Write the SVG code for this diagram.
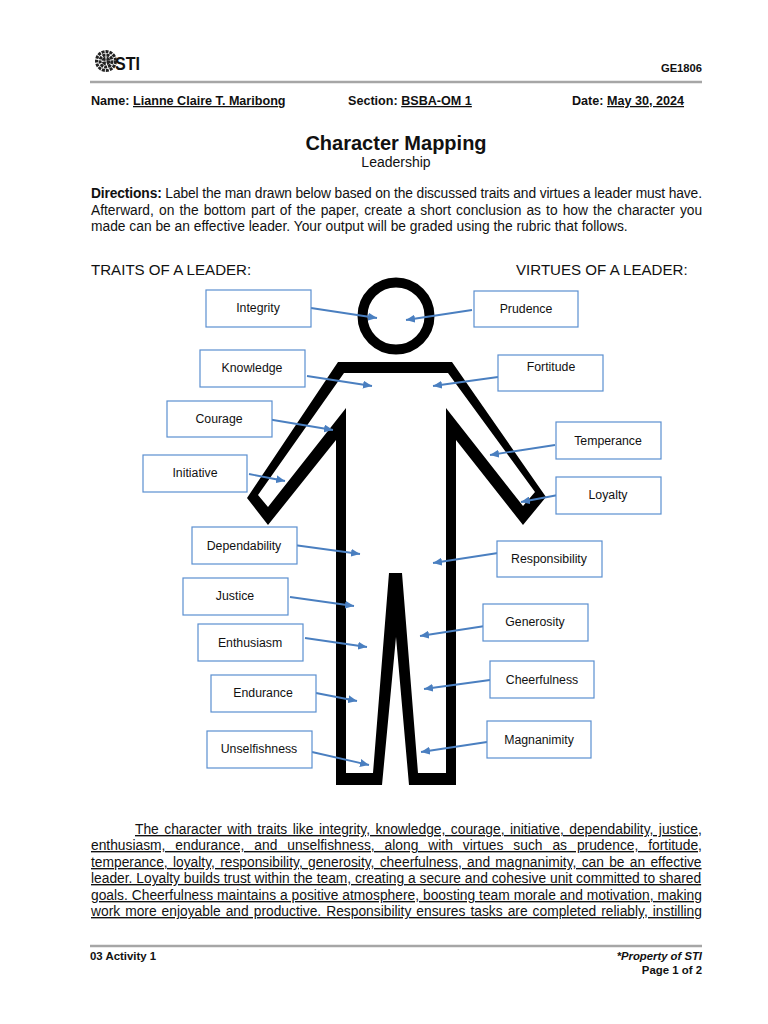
<svg xmlns="http://www.w3.org/2000/svg" width="768" height="1024" viewBox="0 0 768 1024">
<style>
text{font-family:"Liberation Sans",Arial,sans-serif;fill:#111}
.b{font-weight:700}
.h{font-size:12.6px;font-weight:700}
.d{font-size:13.8px}
.p{font-size:13.8px;text-decoration:underline}
.l{font-size:12.3px;text-anchor:middle}
.box{fill:#fff;stroke:#5b8fd0;stroke-width:1.2}
.a{stroke:#4a7fc0;stroke-width:1.8;fill:none;marker-end:url(#ah)}
.rule{stroke:#a6a6a6;stroke-width:2.4}
.fig{fill:none;stroke:#000;stroke-width:10}
.g{fill:none;stroke:#222;stroke-dasharray:3 1}
</style>
<defs><marker id="ah" markerUnits="userSpaceOnUse" markerWidth="10" markerHeight="8" refX="9" refY="4" orient="auto"><path d="M0 0L9 4L0 8Z" fill="#4a7fc0"/></marker></defs>
<rect width="768" height="1024" fill="#fff"/>
<g id="logo">
<circle class="g" cx="106" cy="61" r="9.5" stroke-width="3"/>
<circle class="g" cx="106" cy="61" r="6" stroke-width="3"/>
<circle class="g" cx="106" cy="61" r="2.5" stroke-width="3.5"/>
<text x="115" y="70" font-size="18" class="b" textLength="25" lengthAdjust="spacingAndGlyphs">STI</text>
</g>
<text x="702" y="72" text-anchor="end" class="b" font-size="11.2">GE1806</text>
<line class="rule" x1="90" y1="82" x2="702" y2="82"/>
<text x="91" y="105" class="h">Name: <tspan text-decoration="underline">Lianne Claire T. Maribong</tspan></text>
<text x="348" y="105" class="h">Section: <tspan text-decoration="underline">BSBA-OM 1</tspan></text>
<text x="572" y="105" class="h">Date: <tspan text-decoration="underline">May 30, 2024</tspan></text>
<text x="396" y="150" text-anchor="middle" class="b" font-size="20">Character Mapping</text>
<text x="396" y="167" text-anchor="middle" font-size="14">Leadership</text>
<text x="91" y="198" class="d" textLength="611"><tspan class="b">Directions:</tspan> Label the man drawn below based on the discussed traits and virtues a leader must have.</text>
<text x="91" y="215" class="d" word-spacing="1.26">Afterward, on the bottom part of the paper, create a short conclusion as to how the character you</text>
<text x="91" y="231" class="d">made can be an effective leader. Your output will be graded using the rubric that follows.</text>
<text x="91" y="275" font-size="15.1">TRAITS OF A LEADER:</text>
<text x="516" y="275" font-size="15.1">VIRTUES OF A LEADER:</text>
<g id="figure">
<circle class="fig" cx="396" cy="316" r="33.5"/>
<path fill="#000" fill-rule="evenodd" d="M338 362H452L546 497L523 525L456 440V785H409L396 637L382 785H336V440L268 525L247 498Z M344 373H448L535 492L523 506L446 408V773H418L402 573H389L373 773H346V408L268 507L258 495Z"/>
</g>
<g id="connectors">
<line class="a" x1="311" y1="308" x2="377" y2="318"/>
<line class="a" x1="307" y1="376" x2="372" y2="386"/>
<line class="a" x1="267" y1="419" x2="333" y2="430"/>
<line class="a" x1="249" y1="474" x2="285" y2="481"/>
<line class="a" x1="472" y1="310" x2="406" y2="320"/>
<line class="a" x1="498" y1="377" x2="433" y2="386"/>
<line class="a" x1="555" y1="445" x2="490" y2="455"/>
<line class="a" x1="558" y1="495" x2="521" y2="502"/>
<line class="a" x1="294" y1="545" x2="360" y2="554"/>
<line class="a" x1="290" y1="597" x2="354" y2="606"/>
<line class="a" x1="305" y1="638" x2="367" y2="647"/>
<line class="a" x1="316" y1="693" x2="357" y2="701"/>
<line class="a" x1="312" y1="752" x2="369" y2="765"/>
<line class="a" x1="498" y1="553" x2="433" y2="563"/>
<line class="a" x1="485" y1="626" x2="420" y2="636"/>
<line class="a" x1="490" y1="680" x2="424" y2="689"/>
<line class="a" x1="487" y1="742" x2="421" y2="752"/>
</g>
<g id="n-integrity"><rect class="box" x="206" y="290" width="105" height="37"/><text class="l" x="258" y="312">Integrity</text></g>
<g id="n-knowledge"><rect class="box" x="200" y="350" width="105" height="37"/><text class="l" x="252" y="372">Knowledge</text></g>
<g id="n-courage"><rect class="box" x="167" y="401" width="105" height="36"/><text class="l" x="219" y="423">Courage</text></g>
<g id="n-initiative"><rect class="box" x="143" y="455" width="104" height="37"/><text class="l" x="195" y="477">Initiative</text></g>
<g id="n-prudence"><rect class="box" x="474" y="291" width="104" height="36"/><text class="l" x="526" y="313">Prudence</text></g>
<g id="n-fortitude"><rect class="box" x="498" y="355" width="105" height="36"/><text class="l" x="551" y="371">Fortitude</text></g>
<g id="n-temperance"><rect class="box" x="556" y="422" width="105" height="37"/><text class="l" x="608" y="445">Temperance</text></g>
<g id="n-loyalty"><rect class="box" x="556" y="477" width="105" height="37"/><text class="l" x="608" y="499">Loyalty</text></g>
<g id="n-dependability"><rect class="box" x="192" y="527" width="105" height="37"/><text class="l" x="244" y="550">Dependability</text></g>
<g id="n-justice"><rect class="box" x="183" y="578" width="105" height="37"/><text class="l" x="235" y="600">Justice</text></g>
<g id="n-enthusiasm"><rect class="box" x="198" y="624" width="105" height="37"/><text class="l" x="250" y="647">Enthusiasm</text></g>
<g id="n-endurance"><rect class="box" x="211" y="675" width="105" height="37"/><text class="l" x="263" y="697">Endurance</text></g>
<g id="n-unselfishness"><rect class="box" x="207" y="731" width="105" height="37"/><text class="l" x="259" y="753">Unselfishness</text></g>
<g id="n-responsibility"><rect class="box" x="497" y="541" width="105" height="36"/><text class="l" x="549" y="563">Responsibility</text></g>
<g id="n-generosity"><rect class="box" x="483" y="604" width="105" height="37"/><text class="l" x="535" y="626">Generosity</text></g>
<g id="n-cheerfulness"><rect class="box" x="490" y="661" width="104" height="37"/><text class="l" x="542" y="684">Cheerfulness</text></g>
<g id="n-magnanimity"><rect class="box" x="487" y="721" width="104" height="37"/><text class="l" x="539" y="744">Magnanimity</text></g>
<text class="p" x="135" y="834" word-spacing="1.67">The character with traits like integrity, knowledge, courage, initiative, dependability, justice,</text>
<text class="p" x="91" y="850" word-spacing="6.1">enthusiasm, endurance, and unselfishness, along with virtues such as prudence, fortitude,</text>
<text class="p" x="91" y="867" word-spacing="1.44">temperance, loyalty, responsibility, generosity, cheerfulness, and magnanimity, can be an effective</text>
<text class="p" x="91" y="883" word-spacing="0.03">leader. Loyalty builds trust within the team, creating a secure and cohesive unit committed to shared</text>
<text class="p" x="91" y="900" word-spacing="0.11">goals. Cheerfulness maintains a positive atmosphere, boosting team morale and motivation, making</text>
<text class="p" x="91" y="916" word-spacing="1.18">work more enjoyable and productive. Responsibility ensures tasks are completed reliably, instilling</text>
<line class="rule" x1="90" y1="946" x2="702" y2="946"/>
<text x="90" y="960" class="b" font-size="11.4">03 Activity 1</text>
<text x="702" y="960" text-anchor="end" class="b" font-size="11.3" font-style="italic">*Property of STI</text>
<text x="702" y="974" text-anchor="end" class="b" font-size="11.4">Page 1 of 2</text>
</svg>
